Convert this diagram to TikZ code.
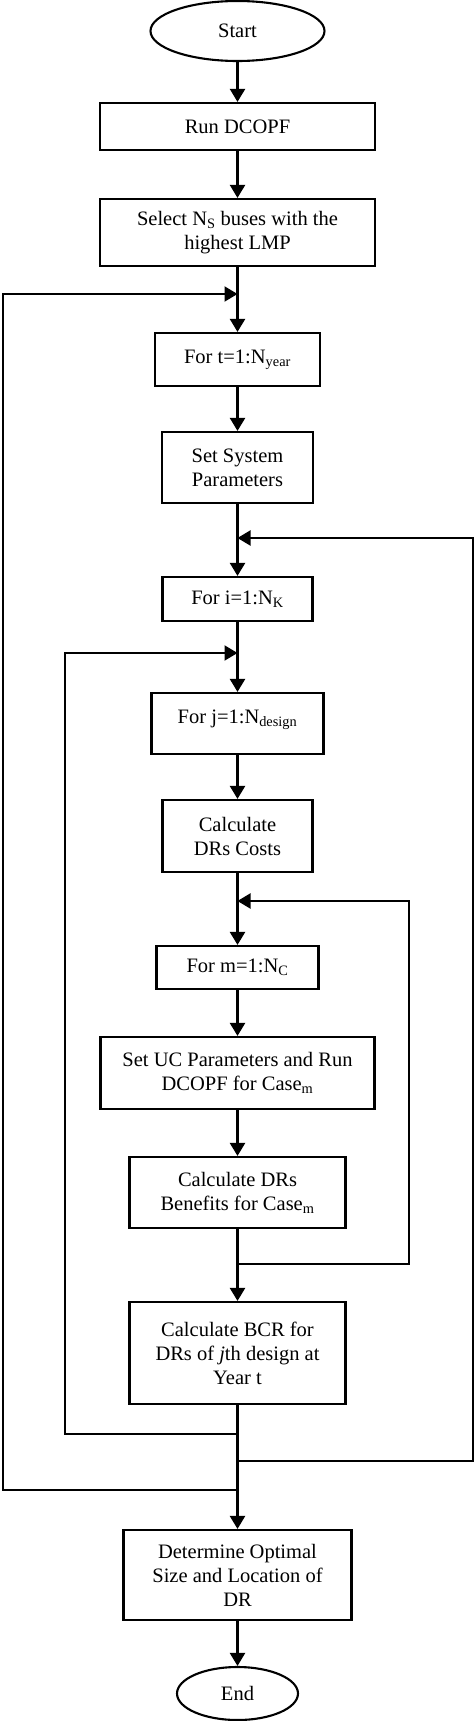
\documentclass[tikz,border=0pt]{standalone}
\usepackage{fontspec}
\setmainfont{Liberation Serif}
\usetikzlibrary{arrows.meta,shapes.geometric}
\begin{document}
\begin{tikzpicture}[x=1pt,y=-1pt,
  every node/.style={font=\fontsize{20.5}{24}\selectfont},
  box/.style={draw, line width=2.1pt, rectangle, align=center, inner sep=0pt},
  term/.style={draw, line width=2.1pt, ellipse, inner sep=0pt},
  arr/.style={line width=2.1pt, -{Triangle[length=13pt,width=15pt]}},
  ln/.style={line width=2.1pt}]
\useasboundingbox (0,0) rectangle (474,1721);
\def\cx{237.5}
\node[term, minimum width=174pt, minimum height=60pt] (start) at (\cx,31) {Start};
\node[box, minimum width=275pt, minimum height=47pt] (run) at (\cx,126.5) {Run DCOPF};
\node[box, minimum width=275pt, minimum height=67pt] (sel) at (\cx,232.5) {Select N\textsubscript{S} buses with the\\highest LMP};
\node[box, minimum width=165pt, minimum height=53pt] (fort) at (\cx,359.5) {For t=1:N\textsubscript{year}};
\node[box, minimum width=151pt, minimum height=71pt] (sys) at (\cx,467.5) {Set System\\Parameters};
\node[box, minimum width=150pt, minimum height=44pt] (fori) at (\cx,599) {For i=1:N\textsubscript{K}};
\node[box, minimum width=172pt, minimum height=61pt, text depth=14pt] (forj) at (\cx,723.5) {For j=1:N\textsubscript{design}};
\node[box, minimum width=150pt, minimum height=72pt] (cost) at (\cx,836) {Calculate\\DRs Costs};
\node[box, minimum width=162pt, minimum height=43pt] (form) at (\cx,967.5) {For m=1:N\textsubscript{C}};
\node[box, minimum width=274pt, minimum height=72pt] (uc) at (\cx,1073) {Set UC Parameters and Run\\DCOPF for Case\textsubscript{m}};
\node[box, minimum width=216pt, minimum height=71pt] (ben) at (\cx,1192.5) {Calculate DRs\\Benefits for Case\textsubscript{m}};
\node[box, minimum width=216pt, minimum height=102pt] (bcr) at (\cx,1353) {Calculate BCR for\\DRs of \textit{j}th design at\\Year t};
\node[box, minimum width=228pt, minimum height=90pt] (det) at (\cx,1575) {Determine Optimal\\Size and Location of\\DR};
\node[term, minimum width=121pt, minimum height=53pt] (end) at (\cx,1693.5) {End};
% join / split points
\coordinate (jt) at (\cx,294);
\coordinate (ji) at (\cx,538);
\coordinate (jj) at (\cx,653);
\coordinate (jm) at (\cx,901);
\coordinate (em) at (\cx,1264);
\coordinate (ej) at (\cx,1434);
\coordinate (ei) at (\cx,1461);
\coordinate (et) at (\cx,1490);
% main flow
\draw[arr] (start) -- (run);
\draw[arr] (run) -- (sel);
\draw[arr] (sel) -- (fort);
\draw[arr] (fort) -- (sys);
\draw[arr] (sys) -- (fori);
\draw[arr] (fori) -- (forj);
\draw[arr] (forj) -- (cost);
\draw[arr] (cost) -- (form);
\draw[arr] (form) -- (uc);
\draw[arr] (uc) -- (ben);
\draw[arr] (ben) -- (bcr);
\draw[arr] (bcr) -- (det);
\draw[arr] (det) -- (end);
% loops
\draw[arr] (em) -- (409,1264) -- (409,901) -- (jm);
\draw[arr] (ej) -- (65,1434) -- (65,653) -- (jj);
\draw[arr] (ei) -- (473,1461) -- (473,538) -- (ji);
\draw[arr] (et) -- (3,1490) -- (3,294) -- (jt);
\end{tikzpicture}
\end{document}
